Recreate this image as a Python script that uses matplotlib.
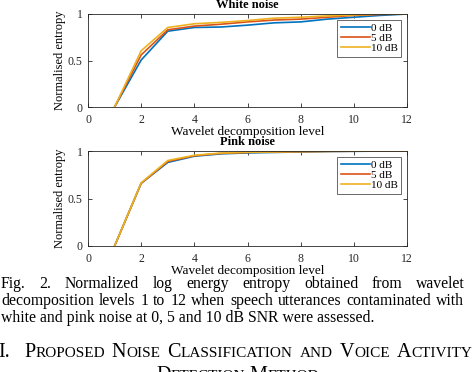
import matplotlib
matplotlib.use("Agg")
import matplotlib.pyplot as plt
import numpy as np

plt.rcParams['font.family'] = ['Liberation Serif', 'DejaVu Serif']

levels = np.arange(1, 13)
snr_labels = ['0 dB', '5 dB', '10 dB']
colors = ['#0072BD', '#D95319', '#EDB120']

white_0 = [0, 0.505, 0.815, 0.855, 0.86, 0.88, 0.905, 0.915, 0.945, 0.965, 0.985, 1.0]
white_5 = [0, 0.56, 0.83, 0.87, 0.89, 0.915, 0.935, 0.945, 0.965, 0.985, 0.995, 1.0]
white_10 = [0, 0.605, 0.855, 0.895, 0.91, 0.93, 0.955, 0.965, 0.98, 0.99, 1.0, 1.0]

pink_0 = [0, 0.66, 0.88, 0.945, 0.97, 0.98, 0.985, 0.99, 0.995, 0.997, 0.999, 1.0]
pink_5 = [0, 0.66, 0.89, 0.95, 0.975, 0.985, 0.99, 0.993, 0.996, 0.998, 0.999, 1.0]
pink_10 = [0, 0.665, 0.9, 0.955, 0.978, 0.987, 0.99, 0.994, 0.997, 0.998, 1.0, 1.0]

caption = [
    "Fig. 2. Normalized log energy entropy obtained from wavelet",
    "decomposition levels 1 to 12 when speech utterances contaminated with",
    "white and pink noise at 0, 5 and 10 dB SNR were assessed.",
]
heading = ["Proposed", "Noise", "Classification", "AND", "Voice", "Activity"]
heading2 = ["Detection", "Method"]

W, H = 474, 372
fig = plt.figure(figsize=(W / 100, H / 100), dpi=100)


def make_axes(top, bottom, title, series):
    ax = fig.add_axes([88 / W, (H - bottom) / H, 319 / W, (bottom - top) / H])
    for ys, c, lab in zip(series, colors, snr_labels):
        ax.plot(levels, ys, color=c, lw=1.2, label=lab)
    ax.set_xlim(0, 12)
    ax.set_ylim(0, 1)
    ax.set_xticks(range(0, 13, 2))
    ax.set_yticks([0, 0.5, 1])
    ax.set_yticklabels(['0', '0.5', '1'])
    ax.tick_params(direction='in', length=3, width=0.6, labelsize=8.5,
                   top=True, right=True, colors='#262626')
    ax.tick_params(axis='x', pad=5)
    ax.tick_params(axis='y', pad=4)
    for s in ax.spines.values():
        s.set_linewidth(0.6)
        s.set_color('#262626')
    ax.set_xlabel('Wavelet decomposition level', fontsize=9.5, labelpad=0)
    ax.set_ylabel('Normalised entropy', fontsize=9, labelpad=1)
    ax.set_title(title, fontsize=9, fontweight='bold', pad=4)
    leg = ax.legend(loc='upper right', fontsize=8, handlelength=2.6,
                    fancybox=False, borderaxespad=0.5, labelspacing=0.05,
                    handletextpad=0.15, borderpad=0.3)
    leg.get_frame().set_edgecolor('#262626')
    leg.get_frame().set_linewidth(0.6)
    return ax


make_axes(14, 107, 'White noise', [white_0, white_5, white_10])
make_axes(151, 246, 'Pink noise', [pink_0, pink_5, pink_10])

renderer = fig.canvas.get_renderer()


def px(x, y):
    return x / W, (H - y) / H


def width_of(t):
    return t.get_window_extent(renderer).width


# caption text size chosen so the last (unjustified) line ends near x=376
probe = fig.text(0, 0, caption[2], fontsize=10)
cap_size = 10 * 375 / width_of(probe)
probe.remove()


def justified(line, y, x0, x1, size):
    words = line.split()
    ts = [fig.text(0, 0, w, fontsize=size, va='baseline') for w in words]
    widths = [width_of(t) for t in ts]
    gap = (x1 - x0 - sum(widths)) / (len(words) - 1)
    x = x0
    for t, w in zip(ts, widths):
        t.set_position(px(x, y))
        x += w + gap


justified(caption[0], 288, 1, 465, cap_size)
justified(caption[1], 305, 1, 464, cap_size)
fig.text(*px(1, 322), caption[2], fontsize=cap_size, va='baseline')


def small_caps_word(word, big, small):
    if word.isupper():
        parts = [(word, small)]
    else:
        parts = [(word[0].upper(), big), (word[1:].upper(), small)]
    return [fig.text(0, 0, p, fontsize=s, va='baseline') for p, s in parts]


def heading_line(words, y, x0, x1, big, small, justify=True):
    groups = [small_caps_word(w, big, small) for w in words]
    widths = [[width_of(t) for t in g] for g in groups]
    total = sum(sum(w) for w in widths)
    if justify:
        gap = (x1 - x0 - total) / (len(words) - 1)
        x = x0
    else:
        gap = big * 0.3
        x = (x0 + x1 - total - gap * (len(words) - 1)) / 2
    for g, ws in zip(groups, widths):
        for t, w in zip(g, ws):
            t.set_position(px(x, y))
            x += w
        x += gap


fig.text(*px(-2, 357), "I.", fontsize=14.5, va='baseline')
heading_line(heading, 357, 24, 472, 14.5, 11)
heading_line(heading2, 380, 155, 321, 14.5, 11, justify=False)

fig.savefig('out.png', dpi=100)
